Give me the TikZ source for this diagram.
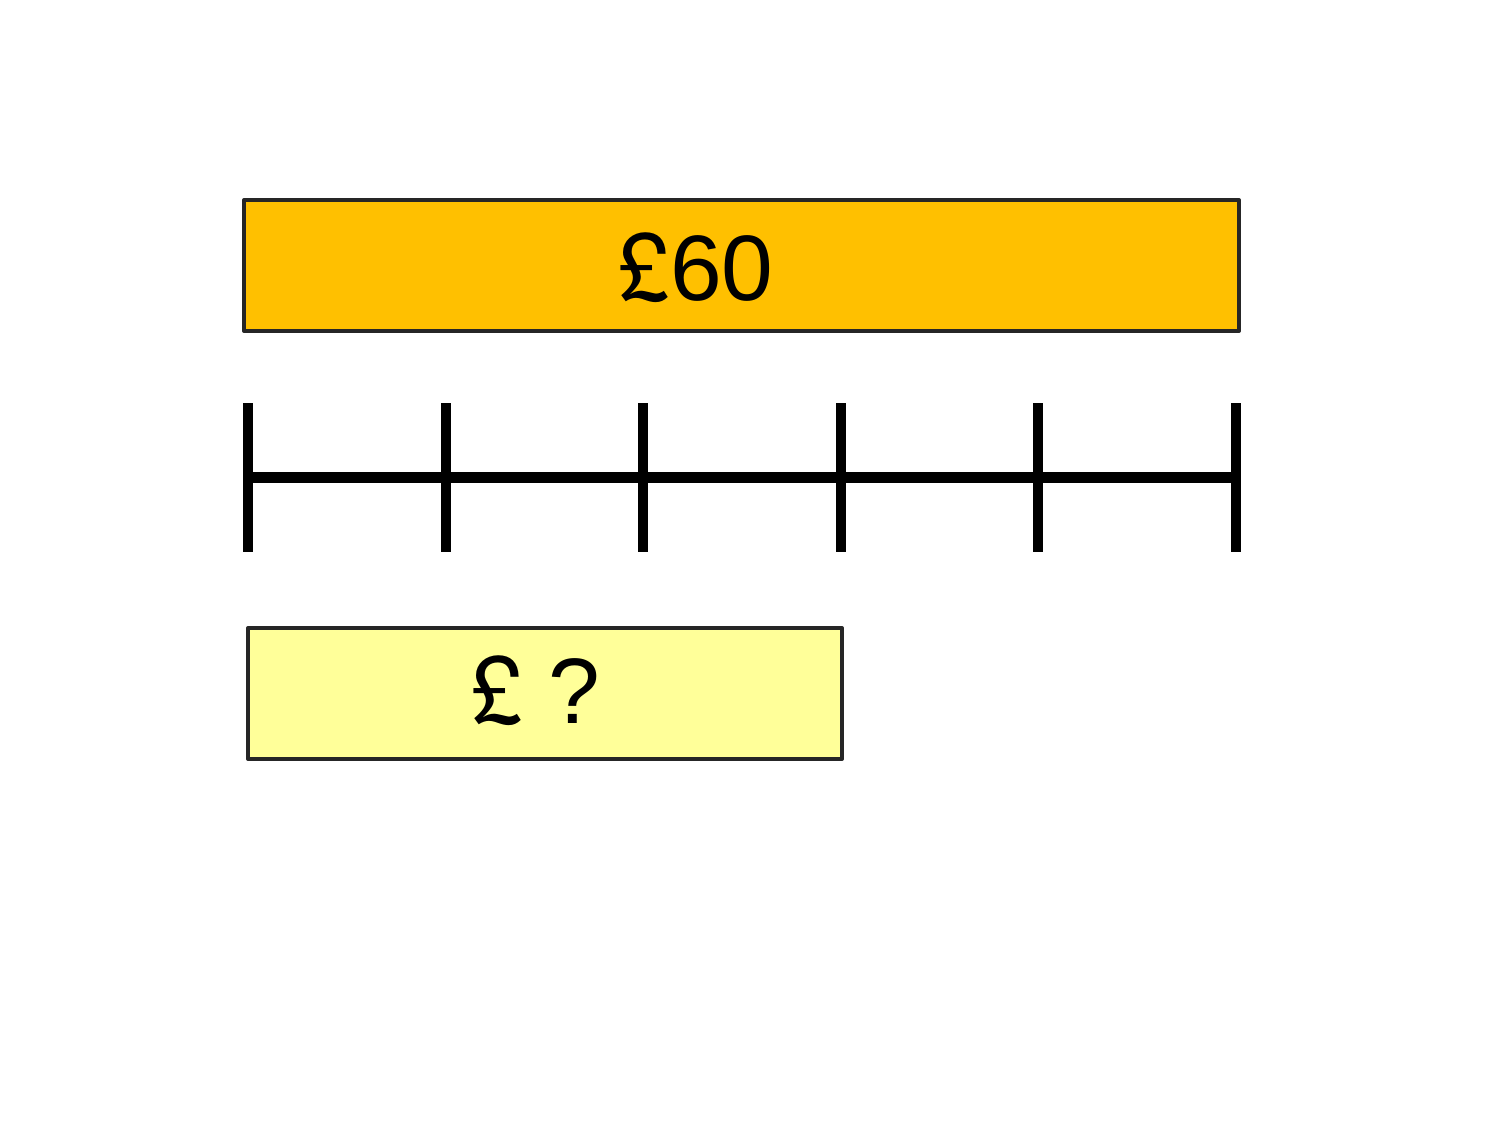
\documentclass[tikz,border=0pt]{standalone}
\usepackage{fontspec}
\setmainfont{Liberation Sans}
\newfontfamily\poundfont{TeX Gyre Heros}
\newcommand{\pnd}{{\poundfont £}}
\definecolor{barorange}{HTML}{FFC000}
\definecolor{baryellow}{HTML}{FFFF99}
\definecolor{edgegray}{HTML}{262626}
\tikzset{
  barbox/.style={draw=edgegray, line width=4pt, rectangle, minimum height=131pt, inner sep=0pt, line join=round},
  label/.style={font=\fontsize{93}{110}\selectfont, inner sep=0pt, anchor=base},
  scale line/.style={line width=11pt, black},
  tickmark/.style={line width=10pt, black}
}
\begin{document}
\begin{tikzpicture}[x=1pt,y=-1pt]
\useasboundingbox (0,0) rectangle (1500,1125);
\node[barbox, fill=barorange, minimum width=995pt] (whole) at (741.5,265.5) {};
\node[label] (wholetext) at (696,300) {\pnd60};
\node[barbox, fill=baryellow, minimum width=594pt] (part) at (545,693.5) {};
\node[label] (parttext) at (536,723) {\pnd{} ?};
\foreach \i/\x in {0/248,1/446,2/643,3/841,4/1038,5/1236}{
  \coordinate (t\i a) at (\x,403);
  \coordinate (t\i b) at (\x,552);
  \coordinate (t\i) at (\x,477);
  \draw[tickmark] (t\i a) -- (t\i b);
}
\draw[scale line] (t0) -- (t5);
\end{tikzpicture}
\end{document}
